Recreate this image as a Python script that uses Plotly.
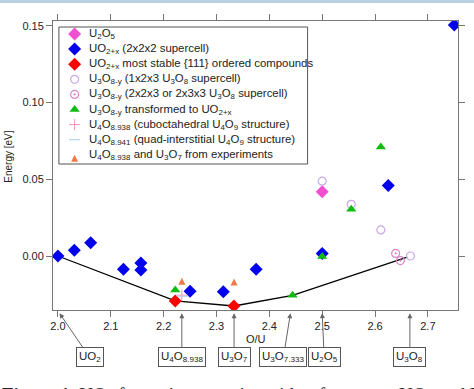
import plotly.graph_objects as go

# ---- data (O/U ratio, energy in eV) ----
u2o5_x = [2.5]
u2o5_y = [0.0419]

uo2x_x = [2.0, 2.031, 2.062, 2.124, 2.157, 2.157, 2.25, 2.313, 2.375, 2.5, 2.625, 2.75]
uo2x_y = [0.0, 0.0037, 0.0087, -0.0087, -0.0046, -0.0091, -0.0230, -0.0233, -0.0087, 0.0017, 0.0460, 0.1506]

stable_x = [2.222, 2.333]
stable_y = [-0.0293, -0.0326]

u3o8a_x = [2.5, 2.555, 2.611, 2.667]
u3o8a_y = [0.0488, 0.0337, 0.0170, 0.0000]

u3o8b_x = [2.639, 2.648]
u3o8b_y = [0.0017, -0.0030]

trans_x = [2.222, 2.444, 2.5, 2.555, 2.611]
trans_y = [-0.0222, -0.0256, -0.0004, 0.0304, 0.0710]

cubo_x = [2.2345]
cubo_y = [-0.0255]

quad_x = [2.2353]
quad_y = [-0.0262]

exp_x = [2.2345, 2.3333]
exp_y = [-0.0141, -0.0146]

hull_x = [2.0, 2.222, 2.333, 2.444, 2.661]
hull_y = [0.0, -0.0293, -0.0326, -0.0256, -0.0008]

xticks = [2.0, 2.1, 2.2, 2.3, 2.4, 2.5, 2.6, 2.7]
yticks = [0.0, 0.05, 0.10, 0.15]

comp_labels = ["UO<sub>2</sub>", "U<sub>4</sub>O<sub>8.938</sub>", "U<sub>3</sub>O<sub>7</sub>",
               "U<sub>3</sub>O<sub>7.333</sub>", "U<sub>2</sub>O<sub>5</sub>", "U<sub>3</sub>O<sub>8</sub>"]
comp_x = [2.003, 2.2345, 2.3333, 2.440, 2.5, 2.666]
comp_ax = [30, 0, 0, -7, 2, 0]

legend_names = [
    "U<sub>2</sub>O<sub>5</sub>",
    "UO<sub>2+x</sub> (2x2x2 supercell)",
    "UO<sub>2+x</sub> most stable {111} ordered compounds",
    "U<sub>3</sub>O<sub>8-y</sub> (1x2x3 U<sub>3</sub>O<sub>8</sub> supercell)",
    "U<sub>3</sub>O<sub>8-y</sub> (2x2x3 or 2x3x3 U<sub>3</sub>O<sub>8</sub> supercell)",
    "U<sub>3</sub>O<sub>8-y</sub> transformed to UO<sub>2+x</sub>",
    "U<sub>4</sub>O<sub>8.938</sub> (cuboctahedral U<sub>4</sub>O<sub>9</sub> structure)",
    "U<sub>4</sub>O<sub>8.941</sub> (quad-interstitial U<sub>4</sub>O<sub>9</sub> structure)",
    "U<sub>4</sub>O<sub>8.938</sub> and U<sub>3</sub>O<sub>7</sub> from experiments",
]

FONT = "Liberation Sans, Arial, sans-serif"

# marker styles per series (same order as legend_names)
styles = [
    dict(symbol="diamond", size=10, color="#f050d0"),
    dict(symbol="diamond", size=10, color="#0000ee"),
    dict(symbol="diamond", size=10, color="#ff0000"),
    dict(symbol="circle-open", size=8, color="#c8a8e8", line=dict(width=1.2)),
    dict(symbol="circle-dot", size=8, color="rgba(0,0,0,0)", line=dict(width=1.2, color="#d888c8")),
    dict(symbol="triangle-up", size=9, color="#11bb11"),
    dict(symbol="cross-thin", size=8, color="#f098b8", line=dict(width=1, color="#f098b8")),
    dict(symbol="line-ew", size=8, color="#a8cce8", line=dict(width=1, color="#a8cce8")),
    dict(symbol="arrow-up", size=7, color="#f07848"),
]
series = [(u2o5_x, u2o5_y), (uo2x_x, uo2x_y), (stable_x, stable_y), (u3o8a_x, u3o8a_y),
          (u3o8b_x, u3o8b_y), (trans_x, trans_y), (cubo_x, cubo_y), (quad_x, quad_y),
          (exp_x, exp_y)]

fig = go.Figure()

fig.add_trace(go.Scatter(x=hull_x, y=hull_y, mode="lines",
                         line=dict(color="black", width=1.3), showlegend=False, hoverinfo="skip"))

for (sx, sy), st, nm in zip(series, styles, legend_names):
    fig.add_trace(go.Scatter(x=sx, y=sy, mode="markers", name=nm, marker=st, showlegend=False))

# ---- custom legend on a pixel-like overlay axis ----
leg_left, leg_right, leg_top, leg_bottom = 59, 312, 27, 164
leg_y = [34 + 15.1 * i for i in range(len(legend_names))]
for st, yy in zip(styles, leg_y):
    fig.add_trace(go.Scatter(x=[75], y=[yy], xaxis="x2", yaxis="y2", mode="markers",
                             marker=st, showlegend=False, hoverinfo="skip"))

annotations = []
for nm, yy in zip(legend_names, leg_y):
    annotations.append(dict(x=88, y=yy, xref="x2", yref="y2", text=nm, xanchor="left",
                            yanchor="middle", showarrow=False,
                            font=dict(family=FONT, size=11.4, color="#222")))

for lab, xv, axv in zip(comp_labels, comp_x, comp_ax):
    annotations.append(dict(x=xv, y=-0.011, xref="x", yref="paper", text=lab,
                            showarrow=True, ax=axv, ay=44, arrowhead=2, arrowsize=1,
                            arrowwidth=1, arrowcolor="#666", standoff=0,
                            bordercolor="#555", borderwidth=1, borderpad=2, bgcolor="white",
                            font=dict(family=FONT, size=11.5, color="#222")))
annotations.append(dict(x=0.502, y=-0.10, xref="paper", yref="paper", text="O/U",
                        xanchor="center", yanchor="middle",
                        showarrow=False, font=dict(family=FONT, size=11, color="#222")))
annotations.append(dict(x=-0.109, y=0.53, xref="paper", yref="paper", text="Energy [eV]",
                        xanchor="center", yanchor="middle",
                        textangle=-90, showarrow=False, font=dict(family=FONT, size=10, color="#222")))
annotations.append(dict(x=-0.13, y=-0.2505, xref="paper", yref="paper", xanchor="left", yanchor="top",
                        text="<b>Figure 1.</b> UO<sub>2</sub> formation energies with reference to UO<sub>2</sub> and U<sub>3</sub>O<sub>8</sub>",
                        showarrow=False, font=dict(family="Liberation Serif, serif", size=19, color="#222")))

fig.update_layout(
    width=474, height=389,
    margin=dict(l=53, r=9, t=21, b=79),
    paper_bgcolor="white", plot_bgcolor="white",
    font=dict(family=FONT, size=11, color="#222"),
    showlegend=False,
    annotations=annotations,
    xaxis=dict(range=[1.9907, 2.757], tickvals=xticks, ticktext=[f"{v:.1f}" for v in xticks],
               showgrid=False, zeroline=False, showline=True, linecolor="#777", linewidth=1,
               mirror="ticks", ticks="outside", ticklen=6, tickcolor="#777",
               tickfont=dict(family=FONT, size=11, color="#222")),
    yaxis=dict(range=[-0.0352, 0.1532], tickvals=yticks, ticktext=[f"{v:.2f}" for v in yticks],
               showgrid=False, zeroline=False, showline=True, linecolor="#777", linewidth=1,
               mirror="ticks", ticks="outside", ticklen=6, tickcolor="#777",
               tickfont=dict(family=FONT, size=11, color="#222")),
    xaxis2=dict(overlaying="x", range=[53, 465], visible=False, fixedrange=True),
    yaxis2=dict(overlaying="y", range=[310, 21], visible=False, fixedrange=True),
    shapes=[
        dict(type="rect", xref="x2", yref="y2", x0=leg_left, x1=leg_right, y0=leg_top, y1=leg_bottom,
             line=dict(color="#555", width=1), fillcolor="rgba(0,0,0,0)", layer="above"),
        dict(type="rect", xref="paper", yref="paper", x0=-0.2, x1=1.1,
             y0=(310 - 3) / 289.0, y1=(310 + 2) / 289.0,
             fillcolor="#b8d0e2", line=dict(width=0), layer="above"),
    ],
)

fig.write_html("out.html")
